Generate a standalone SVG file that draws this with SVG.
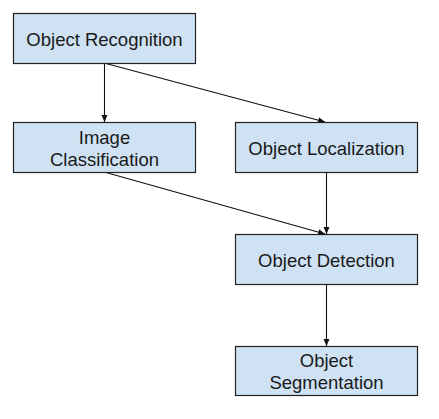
<svg xmlns="http://www.w3.org/2000/svg" width="439" height="419" viewBox="0 0 439 419">
<style>
.box{fill:#cfe2f3;stroke:#222;stroke-width:1.2}
.lbl{font-family:"Liberation Sans",Arial,sans-serif;font-size:18.5px;fill:#1a1a1a;text-anchor:middle}
.edge{stroke:#111;stroke-width:1.1;fill:none;marker-end:url(#ah)}
</style>
<defs>
<marker id="ah" markerWidth="8" markerHeight="8" refX="7" refY="4" orient="auto" markerUnits="userSpaceOnUse">
<path d="M0,1 L7,4 L0,7 Z" fill="#111"/>
</marker>
</defs>
<rect width="439" height="419" fill="#fff"/>
<g id="connectors">
<line class="edge" x1="104.5" y1="63.5" x2="104.5" y2="122"/>
<line class="edge" x1="106" y1="63.5" x2="325" y2="122"/>
<line class="edge" x1="106" y1="172.5" x2="325" y2="234"/>
<line class="edge" x1="326.5" y1="172.5" x2="326.5" y2="234"/>
<line class="edge" x1="326.5" y1="284.5" x2="326.5" y2="346"/>
</g>
<g id="object-recognition">
<rect class="box" x="13.5" y="13.5" width="182" height="50"/>
<text class="lbl" x="104.5" y="46">Object Recognition</text>
</g>
<g id="image-classification">
<rect class="box" x="13.5" y="122.5" width="182" height="50"/>
<text class="lbl" x="104.5" y="144">Image</text>
<text class="lbl" x="104.5" y="166">Classification</text>
</g>
<g id="object-localization">
<rect class="box" x="235.5" y="122.5" width="182" height="50"/>
<text class="lbl" x="326.5" y="154.5">Object Localization</text>
</g>
<g id="object-detection">
<rect class="box" x="235.5" y="234.5" width="182" height="50"/>
<text class="lbl" x="326.5" y="266.5">Object Detection</text>
</g>
<g id="object-segmentation">
<rect class="box" x="235.5" y="346.5" width="182" height="49"/>
<text class="lbl" x="326.5" y="367">Object</text>
<text class="lbl" x="326.5" y="388.5">Segmentation</text>
</g>
</svg>
